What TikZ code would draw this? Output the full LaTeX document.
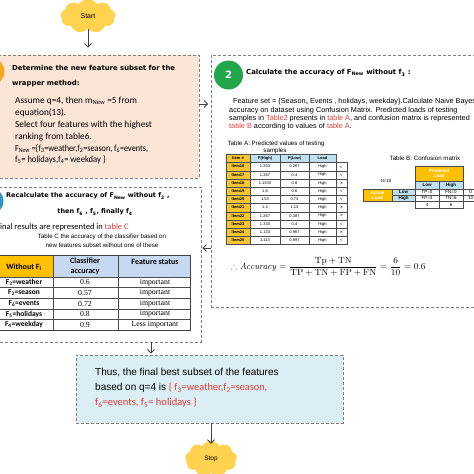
\documentclass[tikz,border=0pt]{standalone}
\usepackage{amsmath,amssymb}
\usepackage[no-math]{fontspec}
\setmainfont{Liberation Sans}
\newfontfamily\calib{Carlito}
\newfontfamily\dvs{DejaVu Sans}
\newfontfamily\tnr{Liberation Serif}
\usetikzlibrary{shapes.symbols,arrows.meta}
\definecolor{peach}{HTML}{FBE5D6}
\definecolor{lblue}{HTML}{DAEEF3}
\definecolor{gold}{HTML}{FFC000}
\definecolor{goldA}{HTML}{F7C531}
\definecolor{thead}{HTML}{C6D9F1}
\definecolor{theadA}{HTML}{BFE0F0}
\definecolor{cloudc}{HTML}{FFD34F}
\definecolor{redt}{HTML}{E03C3C}
\definecolor{grn}{HTML}{21A64B}
\definecolor{orng}{HTML}{F5A623}
\definecolor{teal}{HTML}{2E9AC4}
\definecolor{dashc}{HTML}{7F7F7F}
\newcommand\tc[8]{\filldraw[fill=#6, draw=black!70, line width=0.3pt] (#2,#3) rectangle (#4,#5);
  \node[inner sep=0, font=#7, align=center] (#1) at ({(#2+#4)/2},{(#3+#5)/2}) {#8};}
\newcommand\fs[2]{\fontsize{#1}{#2}\selectfont}
\tikzset{
  panel/.style={draw=dashc, dash pattern=on 3pt off 2pt, line width=0.8pt, inner sep=0},
  arr/.style={-{Straight Barb[length=3.5pt,width=7pt]}, draw=black!75, line width=0.8pt},
  cl/.style={cloud, cloud puffs=9, cloud puff arc=120, aspect=1.6, fill=cloudc, draw=none, inner sep=0},
  txt/.style={inner sep=0, anchor=west},
  ctxt/.style={inner sep=0},
  ttl/.style={txt, font=\dvs\bfseries\fs{6.9}{7}},
  b1f/.style={txt, font=\calib\fs{9.3}{10}},
  b2f/.style={txt, font=\fs{7.3}{7.5}},
  capf/.style={ctxt, font=\fs{6.2}{6.5}},
}
\begin{document}
\begin{tikzpicture}[x=1pt,y=-1pt]
\useasboundingbox (0,0) rectangle (474,474);
\clip (0,0) rectangle (474,474);
% panels
\node[panel, fill=peach, minimum width=224, minimum height=123] (box1) at (87,116.5) {};
\node[panel, fill=white, minimum width=279, minimum height=252] (box2) at (350.5,181) {};
\node[panel, fill=white, minimum width=231, minimum height=155] (box3) at (85.5,264.5) {};
\node[panel, fill=lblue, minimum width=267, minimum height=68] (final) at (209.5,389) {};
% clouds
\node[cl, minimum width=55, minimum height=34, font=\fs{7}{8}] (start) at (88,16) {Start};
\node[cl, minimum width=52, minimum height=36, font=\fs{6.5}{7}] (stop) at (211,459) {Stop};
% circles
\node[circle, fill=orng, minimum size=28, inner sep=0] (c1) at (-9.5,71.5) {};
\node[circle, fill=grn, minimum size=29, inner sep=0, text=white, font=\dvs\bfseries\fs{10}{10}] (c2) at (228.5,75) {2};
\node[circle, fill=teal, minimum size=28, inner sep=0] (c3) at (-10.5,201) {};
% arrows
\draw[arr, shorten >=7pt] (start.south) -- (start.south |- box1.north);
\draw[arr, shorten >=2.5pt] (box1.east |- 0,104) -- (box2.west |- 0,104);
\draw[arr, shorten >=1pt] (box2.west |- 0,248) -- (box3.east |- 0,248);
\draw[arr, shorten >=1pt] (box3.south -| 151,0) -- (final.north -| 151,0);
\draw[arr, shorten >=-3pt] (final.south -| stop.north) -- (stop.north);
% box 1 text
\node[ttl] (b1t1) at (12,68) {Determine the new feature subset for the};
\node[ttl] (b1t2) at (12,84) {wrapper method:};
\node[b1f] (b1l1) at (15,101) {Assume q=4, then m\textsubscript{New} =5 from};
\node[b1f] (b1l2) at (15,113) {equation(13).};
\node[b1f] (b1l3) at (15,125) {Select four features with the highest};
\node[b1f] (b1l4) at (15,137) {ranking from table6.};
\node[b1f] (b1l5) at (15,149) {\scalebox{0.88}[1]{F\textsubscript{New} =\{f\textsubscript{3}=weather,f\textsubscript{2}=season, f\textsubscript{6}=events,}};
\node[b1f] (b1l6) at (15,160) {\scalebox{0.92}[1]{f\textsubscript{5}= holidays,f\textsubscript{4}= weekday \}}};
% box 2 text
\node[ttl] (b2t) at (246,73) {Calculate the accuracy of F\textsubscript{New} without f\textsubscript{3} :};
\node[b2f] (b2l1) at (233,102) {Feature set = \{Season,, Events , holidays, weekday\}.Calculate Naive Bayes};
\node[b2f] (b2l2) at (229,110.3) {accuracy on dataset using Confusion Matrix. Predicted loads of testing};
\node[b2f] (b2l3) at (229,118.6) {samples in \textcolor{redt}{Table2} presents in \textcolor{redt}{table A}, and confusion matrix is represented};
\node[b2f] (b2l4) at (229,126.9) {\textcolor{redt}{table B} according to values of \textcolor{redt}{table A}.};
\node[capf] (capA1) at (276,144) {Table A: Predicted values of testing};
\node[capf] (capA2) at (275,151.3) {samples};
\node[capf] (capB) at (425,158) {Table B: Confusion matrix};
% table A
\tc{tAh1}{226}{154.5}{250}{162.5}{goldA}{\bfseries\fs{4}{4}}{Item \#}
\tc{tAh2}{250}{154.5}{280}{162.5}{theadA}{\bfseries\fs{4}{4}}{P(High)}
\tc{tAh3}{280}{154.5}{309}{162.5}{theadA}{\bfseries\fs{4}{4}}{P(Low)}
\tc{tAh4}{309}{154.5}{336}{162.5}{theadA}{\bfseries\fs{4}{4}}{Load}
\foreach \it/\ph/\pl/\mk [count=\r] in {16/1.333/0.267/√, 17/1.267/0.4/√, 18/1.1333/0.8/×, 19/1.6/0.6/√, 20/1.53/0.73/√, 21/1.4/1.13/×, 22/1.267/0.387/×, 23/1.333/0.4/√, 24/1.133/0.967/×, 25/1.113/0.897/√}{
  \pgfmathsetmacro\yt{162.5+(\r-1)*8.2}
  \pgfmathsetmacro\yb{\yt+8.2}
  \tc{tA-\r-1}{226}{\yt}{250}{\yb}{goldA}{\bfseries\fs{4}{4}}{Item\it}
  \tc{tA-\r-2}{250}{\yt}{280}{\yb}{white}{\fs{4}{4}}{\ph}
  \tc{tA-\r-3}{280}{\yt}{309}{\yb}{white}{\fs{4}{4}}{\pl}
  \tc{tA-\r-4}{309}{\yt}{336}{\yb}{white}{\fs{4}{4}}{High}
  \tc{tA-\r-5}{336}{\yt}{347}{\yb}{white}{\dvs\fs{4}{4}}{\mk}
}
% table B
\node[ctxt, font=\fs{4.5}{5}] (nten) at (386,181) {N=10};
\tc{tBp}{415}{166}{463}{181}{gold}{\bfseries\color{white}\fs{4.5}{5}}{Predicted\\Load}
\tc{tBl}{415}{181}{439}{189}{theadA}{\bfseries\fs{4.5}{5}}{Low}
\tc{tBh}{439}{181}{463}{189}{theadA}{\bfseries\fs{4.5}{5}}{High}
\tc{tBa}{363}{189}{392}{201}{gold}{\bfseries\color{white}\fs{4.5}{5}}{Actual\\Load}
\tc{tBal}{392}{189}{415}{195}{theadA}{\bfseries\fs{4.5}{5}}{Low}
\tc{tBah}{392}{195}{415}{201}{theadA}{\bfseries\fs{4.5}{5}}{High}
\tc{tB11}{415}{189}{439}{195}{white}{\fs{4.5}{5}}{TP=0}
\tc{tB12}{439}{189}{463}{195}{white}{\fs{4.5}{5}}{FN=0}
\tc{tB13}{463}{189}{478}{195}{white}{\fs{4.5}{5}}{0}
\tc{tB21}{415}{195}{439}{201}{white}{\fs{4.5}{5}}{FP=4}
\tc{tB22}{439}{195}{463}{201}{white}{\fs{4.5}{5}}{TN=6}
\tc{tB23}{463}{195}{478}{201}{white}{\fs{4.5}{5}}{10}
\tc{tB31}{415}{201}{439}{208}{white}{\fs{4.5}{5}}{4}
\tc{tB32}{439}{201}{463}{208}{white}{\fs{4.5}{5}}{6}
% formula
\node[txt] (acc) at (231,267) {\fs{9.1}{10}$\therefore \mathit{Accuracy} = \dfrac{\mathrm{Tp + TN}}{\mathrm{TP + TN + FP + FN}} = \dfrac{6}{10} = 0.6$};
% box 3 text
\node[txt, font=\dvs\bfseries\fs{6.5}{7}] (b3t1) at (6,196) {Recalculate the accuracy of F\textsubscript{New} without f\textsubscript{2} ,};
\node[ctxt, font=\dvs\bfseries\fs{6.5}{7}] (b3t2) at (95,212) {then f\textsubscript{6} , f\textsubscript{5}, finally f\textsubscript{4}};
\node[txt, font=\calib\fs{8.5}{9}] (b3l) at (-4,227) {Final results are represented in \textcolor{redt}{table C}};
\node[capf] (capC1) at (102,237) {Table C the accuracy of the classifier based on};
\node[capf] (capC2) at (102,245) {new features subset without one of these};
% table C
\fill[gold] (-5,255) rectangle (53,277);
\fill[thead] (53,255) rectangle (190,277);
\node[ctxt, font=\calib\bfseries\fs{8}{9}] (tCh1) at (24,267) {Without F\textsubscript{i}};
\node[ctxt, font=\calib\bfseries\fs{8}{9.5}, align=center] (tCh2) at (85,266.5) {Classifier\\accuracy};
\node[ctxt, font=\calib\bfseries\fs{8}{9}] (tCh3) at (155,262) {Feature status};
\foreach \fa/\fb/\fc [count=\r] in {F\textsubscript{3}=weather/0.6/important, F\textsubscript{2}=season/0.57/important, F\textsubscript{6}=events/0.72/important, F\textsubscript{5}=holidays/0.8/important, F\textsubscript{4}=weekday/0.9/Less important}{
  \pgfmathsetmacro\yc{277+(\r-0.5)*10.6}
  \node[ctxt, font=\calib\bfseries\fs{7.5}{8}] (tC-\r-1) at (24,\yc) {\fa};
  \node[ctxt, font=\tnr\fs{7.8}{8}] (tC-\r-2) at (85,\yc) {\fb};
  \node[ctxt, font=\tnr\fs{7.8}{8}] (tC-\r-3) at (155,\yc) {\fc};
}
\draw[black!70, line width=0.4pt] (-5,277) -- (190,277) (-5,287.6) -- (190,287.6) (-5,298.2) -- (190,298.2) (-5,308.8) -- (190,308.8) (-5,319.4) -- (190,319.4) (53,255) -- (53,330) (118,255) -- (118,330);
\draw[black!75, line width=0.7pt] (-5,255) rectangle (190,330);
% final text
\node[txt, font=\fs{10}{11}] (f1) at (95,373) {Thus, the final best subset of the features};
\node[txt, font=\fs{10}{11}] (f2) at (95,388) {based on q=4 is \textcolor{redt}{\calib\fs{10.3}{11}\{ f\textsubscript{3}=weather,f\textsubscript{2}=season,}};
\node[txt, font=\calib\fs{10.5}{11}, text=redt] (f3) at (95,403) {f\textsubscript{6}=events, f\textsubscript{5}= holidays \}};
\end{tikzpicture}
\end{document}
